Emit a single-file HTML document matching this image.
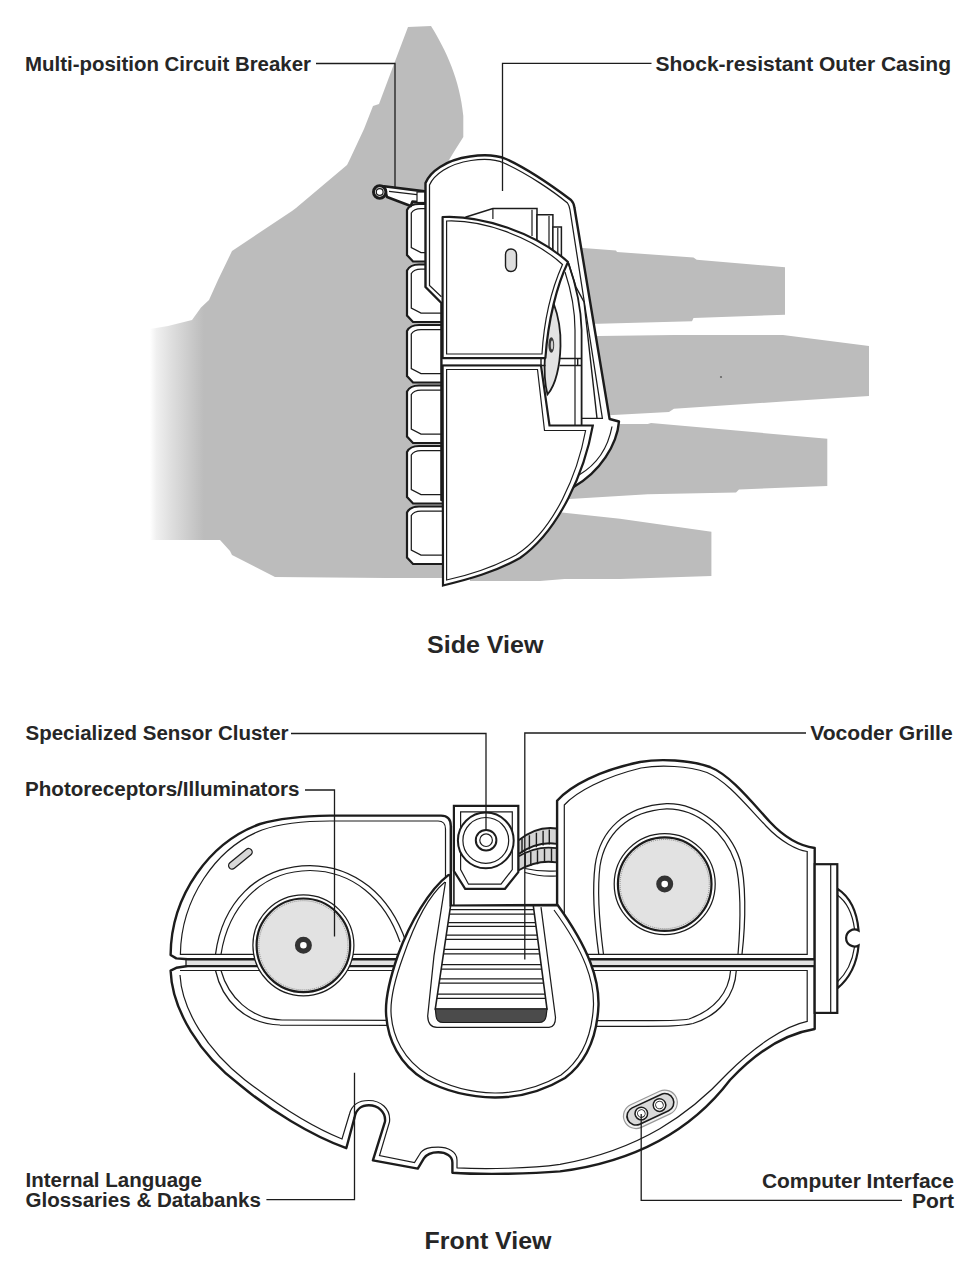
<!DOCTYPE html>
<html><head><meta charset="utf-8"><title>Universal Translator</title>
<style>
html,body{margin:0;padding:0;background:#fff;width:980px;height:1275px;overflow:hidden}
svg{display:block}
text{font-family:"Liberation Sans",sans-serif;font-weight:bold;fill:#262626}
</style></head><body>
<svg width="980" height="1275" viewBox="0 0 980 1275">
<defs>
<linearGradient id="wrist" gradientUnits="userSpaceOnUse" x1="150" y1="0" x2="204" y2="0">
<stop offset="0" stop-color="#ffffff"/><stop offset="0.12" stop-color="#f0f0f0"/><stop offset="0.4" stop-color="#dedede"/><stop offset="0.75" stop-color="#cacaca"/><stop offset="1" stop-color="#bcbcbc"/>
</linearGradient>
</defs>
<path d="M 408 27 L 431 26 C 446 50, 460 80, 463.3 116 L 463.3 137 L 460.8 141 Q 455 150, 449 160 L 540 200 L 540 512 L 480 512 L 480 578 L 385 578 L 275 577 L 232 555 L 230 551 L 220 540 L 150 540 L 150 329 L 168 326 L 192 320 L 201 307.5 L 209 300 L 218 280 L 232 251 L 292 211 L 296 208 L 347 165 L 350 159 L 364 129 L 373 106 L 379 104 L 394 64 Z" fill="url(#wrist)"/>
<path d="M 560 248 L 583 248 L 616 250.4 L 617 252 L 693.5 257.5 L 696.7 259.8 L 785 267.3 L 785 314.7 L 693.5 318 L 692 321.2 L 598.8 323.8 L 560 324 Z" fill="#bcbcbc"/>
<path d="M 560 336 L 598.8 336 L 673.9 335 L 783 335 L 869 346 L 869 396 L 783.3 401.5 L 673.9 408.7 L 669 412 L 608.6 415.3 L 560 416 Z" fill="#bcbcbc"/>
<path d="M 580 424 L 647.8 424 L 651 423 L 736 430.6 L 827.3 438.8 L 827.3 486 L 739 489.4 L 736 492.6 L 647.8 494.3 L 569.4 499 L 560 499 Z" fill="#bcbcbc"/>
<path d="M 470 512 L 559.6 512.2 L 620 518.8 L 711.4 531.8 L 711.4 576 L 620 579 L 564.5 579 L 540 581 L 470 581 Z" fill="#bcbcbc"/>
<circle cx="721" cy="377" r="1.1" fill="#666"/>
<path d="M 316 63.5 H 395 V 188" fill="none" stroke="#1c1c1c" stroke-width="1.3"/>
<path d="M 446 204.0 L 419 204.0 C 413 204.0, 409 206.0, 407 210.0 L 407 255.0 L 413 261.5 L 446 261.5 Z" fill="#fff" stroke="#1c1c1c" stroke-width="2.2"/>
<path d="M 446 208.5 L 421 208.5 C 416 208.5, 413 210.0, 411.3 213.0 L 411.3 247.5 L 421 252.5 L 446 252.5" fill="none" stroke="#1c1c1c" stroke-width="1.25"/>
<path d="M 446 264.5 L 419 264.5 C 413 264.5, 409 266.5, 407 270.5 L 407 315.5 L 413 322.0 L 446 322.0 Z" fill="#fff" stroke="#1c1c1c" stroke-width="2.2"/>
<path d="M 446 269.0 L 421 269.0 C 416 269.0, 413 270.5, 411.3 273.5 L 411.3 308.0 L 421 313.0 L 446 313.0" fill="none" stroke="#1c1c1c" stroke-width="1.25"/>
<path d="M 446 325.0 L 419 325.0 C 413 325.0, 409 327.0, 407 331.0 L 407 376.0 L 413 382.5 L 446 382.5 Z" fill="#fff" stroke="#1c1c1c" stroke-width="2.2"/>
<path d="M 446 329.5 L 421 329.5 C 416 329.5, 413 331.0, 411.3 334.0 L 411.3 368.5 L 421 373.5 L 446 373.5" fill="none" stroke="#1c1c1c" stroke-width="1.25"/>
<path d="M 446 385.5 L 419 385.5 C 413 385.5, 409 387.5, 407 391.5 L 407 436.5 L 413 443.0 L 446 443.0 Z" fill="#fff" stroke="#1c1c1c" stroke-width="2.2"/>
<path d="M 446 390.0 L 421 390.0 C 416 390.0, 413 391.5, 411.3 394.5 L 411.3 429.0 L 421 434.0 L 446 434.0" fill="none" stroke="#1c1c1c" stroke-width="1.25"/>
<path d="M 446 446.0 L 419 446.0 C 413 446.0, 409 448.0, 407 452.0 L 407 497.0 L 413 503.5 L 446 503.5 Z" fill="#fff" stroke="#1c1c1c" stroke-width="2.2"/>
<path d="M 446 450.5 L 421 450.5 C 416 450.5, 413 452.0, 411.3 455.0 L 411.3 489.5 L 421 494.5 L 446 494.5" fill="none" stroke="#1c1c1c" stroke-width="1.25"/>
<path d="M 446 506.5 L 419 506.5 C 413 506.5, 409 508.5, 407 512.5 L 407 557.5 L 413 564.0 L 446 564.0 Z" fill="#fff" stroke="#1c1c1c" stroke-width="2.2"/>
<path d="M 446 511.0 L 421 511.0 C 416 511.0, 413 512.5, 411.3 515.5 L 411.3 550.0 L 421 555.0 L 446 555.0" fill="none" stroke="#1c1c1c" stroke-width="1.25"/>
<path d="M 384 186.3 L 424.6 191.4 L 424.6 202.5 L 412.5 201.6 L 410.7 206 L 387 197 Z" fill="#fff" stroke="#1c1c1c" stroke-width="2.6" stroke-linejoin="round"/>
<path d="M 389 191.4 L 417 194.6" fill="none" stroke="#1c1c1c" stroke-width="1.2"/>
<rect x="417" y="192" width="8" height="10.5" fill="#fff" stroke="#1c1c1c" stroke-width="1.2"/>
<circle cx="379.7" cy="192" r="6.2" fill="#fff" stroke="#1c1c1c" stroke-width="3"/>
<circle cx="379.7" cy="192" r="3.4" fill="none" stroke="#1c1c1c" stroke-width="1.2"/>
<path d="M 425.5 287 V 183 C 430 172, 445 160, 470 156.5 C 480 155, 495 154.5, 506 159 C 530 170, 555 188, 571 200 Q 574 203, 574.5 208 L 609.6 419 L 619 421.5 C 617 445, 600 472, 573.6 487 L 558 500 L 441.4 500 L 441.4 303 Z" fill="#fff" stroke="#1c1c1c" stroke-width="2.4" stroke-linejoin="round"/>
<path d="M 441.4 296.7 L 429.5 285.5 V 185 C 434 175, 448 164, 471 160.5 C 481 159, 494 158.5, 504 163 C 528 174, 553 191, 567.5 203 Q 569.5 206, 570 210 L 602.4 418.4 L 581 418.4" fill="none" stroke="#1c1c1c" stroke-width="1.25"/>
<path d="M 612 426.5 C 608 448, 596 465, 579 475" fill="none" stroke="#1c1c1c" stroke-width="1.25"/>
<path d="M 466 217 L 492.9 208.6 L 537 208.6 L 537 240 L 466 240 Z" fill="#fff" stroke="#1c1c1c" stroke-width="1.5"/>
<path d="M 537 214.7 H 552.9 V 250 H 537 Z" fill="#fff" stroke="#1c1c1c" stroke-width="1.5"/>
<path d="M 552.9 227 H 561.4 V 258 H 552.9 Z" fill="#fff" stroke="#1c1c1c" stroke-width="1.5"/>
<path d="M 492.9 208.6 V 219 M 532 209.8 V 236 M 549 216 V 247 M 557.8 228 V 255" fill="none" stroke="#1c1c1c" stroke-width="1.2"/>
<path d="M 568.4 263 C 576 285, 581 305, 581.6 330 L 581.6 426" fill="none" stroke="#1c1c1c" stroke-width="1.8"/>
<path d="M 565 272 C 571 290, 575 310, 575 330 L 575 426" fill="none" stroke="#1c1c1c" stroke-width="1.2"/>
<path d="M 568.4 263 L 576 287 L 584 302 L 597 418.4" fill="none" stroke="#1c1c1c" stroke-width="1.4"/>
<path d="M 553.5 303 C 558 315, 561 330, 560.5 346 C 560 365, 556 385, 547.5 394.5 C 545 385, 544 370, 545 355 C 546 335, 549 315, 553.5 303 Z" fill="#e3e3e3" stroke="#1c1c1c" stroke-width="1.8"/>
<ellipse cx="551.3" cy="345" rx="2.9" ry="7.8" fill="#3a3a3a"/>
<ellipse cx="552" cy="345" rx="1.2" ry="4.5" fill="#cfcfcf"/>
<path d="M 442.6 217 C 480 215, 535 232, 568 262 C 557 285, 548 320, 545.4 358 L 442.6 358 Z" fill="#fff" stroke="#1c1c1c" stroke-width="2.2" stroke-linejoin="round"/>
<path d="M 446.6 221 C 482 219.5, 532 236.5, 562.5 264.5 C 552 288, 544 320, 542 354 L 446.6 354 Z" fill="none" stroke="#1c1c1c" stroke-width="1.2"/>
<rect x="505.5" y="249" width="11" height="22.5" rx="5.5" fill="#dedede" stroke="#1c1c1c" stroke-width="1.4"/>
<path d="M 442.6 358.5 H 546 M 442.6 365.5 H 545.5 M 559.8 358.5 H 581.6 M 559.5 365.5 H 581.6 M 541 358.5 V 365.5 M 577.7 358.5 V 365.5" fill="none" stroke="#1c1c1c" stroke-width="1.4"/>
<path d="M 442.6 365.5 L 541 365.5 L 549.5 425.5 L 592.8 425.5 C 585 470, 560 530, 520 558 C 495 572, 470 579, 443 585.5 Z" fill="#fff" stroke="#1c1c1c" stroke-width="2.2" stroke-linejoin="miter"/>
<path d="M 446.6 369.5 L 537.5 369.5 L 544.5 430.5 L 585.6 430.5 C 578 472, 555 530, 516 555 C 492 568, 470 575, 446.6 580 Z" fill="none" stroke="#1c1c1c" stroke-width="1.2"/>
<path d="M 502.5 191 V 63.3 H 651.5" fill="none" stroke="#1c1c1c" stroke-width="1.3"/>
<path d="M 187.8 966 L 176.3 967.8 L 170.6 970.6 C 172 1010, 200 1055, 240 1085 C 270 1110, 310 1135, 346.3 1148.2 L 354.5 1117.6 C 356 1109, 362 1105.3, 368.8 1105.3 C 378 1105.3, 386 1112, 385 1121.6 L 372.9 1160.4 L 417.8 1168.6 L 423.9 1158.4 C 427 1153.5, 432 1152.2, 438.2 1152.2 C 446 1152.2, 452.4 1156, 452.4 1162.4 L 452.4 1172.7 C 480 1174.7, 530 1174, 560 1171.4 C 640 1161, 695 1126, 730 1080 C 760 1048, 790 1033, 814.7 1029 L 814.7 966 Z" fill="#fff" stroke="#1c1c1c" stroke-width="2.4" stroke-linejoin="round"/>
<path d="M 180 975 C 182 1010, 207 1050, 245 1080 C 275 1103, 312 1127, 342 1139 L 349.5 1114 C 352 1104, 360 1100.5, 368.8 1100.5 C 380 1100.5, 391 1108, 389.5 1122 L 379.5 1155.5 L 414.5 1162.5 L 419.5 1154.5 C 423 1148, 430 1147.2, 438.2 1147.2 C 448 1147.2, 457 1152, 457 1160 L 457 1167.8 C 485 1169.5, 530 1168.5, 560 1164.3 C 640 1150, 690 1114, 728 1073 C 755 1046, 785 1026, 807.2 1021.4 L 807.2 970.5 L 180 970.5" fill="none" stroke="#1c1c1c" stroke-width="1.2"/>
<rect x="186" y="959.3" width="628.7" height="6.4" fill="#e4e4e4" stroke="#1c1c1c" stroke-width="1.3"/>
<path d="M 187.8 959.3 L 176.3 958.4 L 170.6 955 C 171 895, 210 842, 260 824 C 280 818, 300 816, 330 815.6 L 441 815.6 Q 450.8 815.6, 450.8 826 L 450.8 959.3 Z" fill="#fff" stroke="#1c1c1c" stroke-width="2.4" stroke-linejoin="round"/>
<path d="M 180.4 954.3 C 181 900, 215 848, 262 830 C 282 823, 302 821, 330 821 L 438 821 Q 445.5 821, 445.5 829 L 445.5 954.3 Z" fill="none" stroke="#1c1c1c" stroke-width="1.2"/>
<path d="M 557.1 959.3 L 557.1 800.7 C 570 786, 600 770, 640 762 C 660 758.5, 690 760, 710 767 C 730 775, 750 800, 770 822 C 785 838, 800 846, 814.7 848 L 814.7 959.3 Z" fill="#fff" stroke="#1c1c1c" stroke-width="2.4" stroke-linejoin="round"/>
<path d="M 564.3 954.3 L 564.3 805 C 576 792, 604 777, 641 768 C 661 764.5, 688 766, 707 772.5 C 727 781, 746 805, 766 826 C 781 842, 797 850, 807.2 851.5 L 807.2 954.3 Z" fill="none" stroke="#1c1c1c" stroke-width="1.2"/>
<path d="M 215.5 954.3 C 222 905, 255 866, 310 865.5 C 355 866, 390 895, 406 942" fill="none" stroke="#1c1c1c" stroke-width="1.25"/>
<path d="M 221 954.3 C 228 909, 259 871, 310 870.5 C 352 871, 385 898, 400 942" fill="none" stroke="#1c1c1c" stroke-width="1.2"/>
<path d="M 215.5 970.5 C 222 1000, 245 1024, 280 1025 L 395 1025.3" fill="none" stroke="#1c1c1c" stroke-width="1.25"/>
<path d="M 221 970.5 C 228 996, 250 1019.5, 282 1020 L 395 1020.3" fill="none" stroke="#1c1c1c" stroke-width="1.2"/>
<path d="M 598.8 954.3 C 594 920, 592 890, 595.1 865.3 C 600 830, 625 806, 666.6 803.6 C 700 803, 730 830, 740 860 C 746 880, 746 920, 742 954.3" fill="none" stroke="#1c1c1c" stroke-width="1.25"/>
<path d="M 603.5 954.3 C 599 920, 597 890, 600 866 C 605 834, 628 811, 666.6 808.8 C 698 808.5, 725 833, 735 862 C 741 882, 741 920, 738 954.3" fill="none" stroke="#1c1c1c" stroke-width="1.2"/>
<path d="M 736.3 970.5 C 735 995, 720 1015, 693 1023.5 C 680 1026.5, 665 1026.3, 640 1026.3 L 596 1026.3" fill="none" stroke="#1c1c1c" stroke-width="1.25"/>
<path d="M 730.6 970.5 C 729 992, 715 1010, 689 1019 C 677 1021, 665 1020.6, 640 1020.6 L 596 1020.6" fill="none" stroke="#1c1c1c" stroke-width="1.2"/>
<circle cx="303.4" cy="945.3" r="50.5" fill="#fff" stroke="#1c1c1c" stroke-width="1.25"/>
<circle cx="303.4" cy="945.3" r="46.8" fill="#e2e2e2" stroke="#1c1c1c" stroke-width="2.2"/>
<circle cx="303.4" cy="945.3" r="44.6" fill="none" stroke="#555" stroke-width="0.6" stroke-dasharray="1 1"/>
<circle cx="303.4" cy="945.3" r="5.9" fill="#fff" stroke="#333" stroke-width="5.2"/>
<circle cx="664.7" cy="884.1" r="50.5" fill="#fff" stroke="#1c1c1c" stroke-width="1.25"/>
<circle cx="664.7" cy="884.1" r="46.8" fill="#e2e2e2" stroke="#1c1c1c" stroke-width="2.2"/>
<circle cx="664.7" cy="884.1" r="44.6" fill="none" stroke="#555" stroke-width="0.6" stroke-dasharray="1 1"/>
<circle cx="664.7" cy="884.1" r="5.9" fill="#fff" stroke="#333" stroke-width="5.2"/>
<rect x="226.2" y="855.3" width="28.4" height="7" rx="3.5" fill="#d8d8d8" stroke="#1c1c1c" stroke-width="1.3" transform="rotate(-39.3 240.4 858.8)"/>
<path d="M 837.3 888.7 C 850 897, 857 912, 858.6 930.5 A 8.5 8.5 0 1 0 858.6 945.5 C 857 962, 850 978, 837.3 988.4 Z" fill="#fff" stroke="#1c1c1c" stroke-width="2.2"/>
<path d="M 837.3 895 C 847 902, 852.5 914, 854.5 929 M 854.5 947 C 852.5 961, 847 973, 837.3 982" fill="none" stroke="#1c1c1c" stroke-width="1.2"/>
<rect x="814.7" y="864.2" width="22.6" height="148.7" fill="#fff" stroke="#1c1c1c" stroke-width="2.2"/>
<path d="M 830.7 864.2 V 1012.9" stroke="#1c1c1c" stroke-width="1.2"/>
<path d="M 518.3 840.5 Q 537 825.5, 556.7 828.5 L 556.7 843.8 Q 537 840.8, 518.3 854.3 Z" fill="#d4d4d4" stroke="#1c1c1c" stroke-width="1.8"/>
<path d="M 522 838.6 V 852.5 M 529.4 835.2 V 849.5 M 536.4 832.7 V 847.2 M 543.1 830.7 V 845.5 M 549.3 829.4 V 844.5 " stroke="#1c1c1c" stroke-width="1.4"/>
<path d="M 518.3 856.6 Q 537 845.2, 556.7 848.2 L 556.7 862.4 Q 537 859.4, 518.3 870.6 Z" fill="#d4d4d4" stroke="#1c1c1c" stroke-width="1.8"/>
<path d="M 525.2 853.8 V 867.8 M 530.8 851.9 V 866.0 M 537.5 850.2 V 864.3 M 544.5 849.0 V 863.1 M 551.5 848.3 V 862.5 " stroke="#1c1c1c" stroke-width="1.4"/>
<path d="M 525 868.5 Q 540 872, 556.7 871 M 525 872.5 Q 540 877, 556.7 876" fill="none" stroke="#1c1c1c" stroke-width="1.2"/>
<path d="M 448 875.4 C 430 889, 410 922, 398 955 C 390 978, 385.5 995, 386 1012 C 387 1040, 400 1065, 425 1080 C 445 1091, 470 1097, 495 1097.5 C 520 1097.5, 545 1090, 565 1078 C 585 1063, 597 1040, 598.5 1005 C 599 980, 590 950, 557.6 905 L 450.6 905.7 L 450.3 876 Q 449.5 874.5, 448 875.4 Z" fill="#fff" stroke="#1c1c1c" stroke-width="2.4" stroke-linejoin="round"/>
<path d="M 445 882 C 428 896, 414 925, 403 957 C 395 979, 390.5 996, 391 1012 C 392 1037, 404 1060, 428 1075 C 447 1086, 471 1092.5, 495 1093 C 519 1093, 542 1086, 561 1075 C 580 1061, 592 1038, 593.5 1005 C 594 982, 586 954, 554 910" fill="none" stroke="#1c1c1c" stroke-width="1.2"/>
<path d="M 445.5 882 L 434 955.7 L 427.7 1016 Q 428 1027.2, 437 1027.4 L 549 1027.4 Q 555.5 1027, 555.5 1017.5 L 541 907.2" fill="none" stroke="#1c1c1c" stroke-width="1.25"/>
<path d="M 450.6 905.7 L 533.3 905.7 L 547 1009 L 435.3 1009 Z" fill="#fff" stroke="#1c1c1c" stroke-width="1.6"/>
<path d="M 450.0 909.5 H 533.8 M 449.4 914.1 H 534.4 M 448.1 922.6 H 535.5 M 447.5 926.4 H 536.0 M 446.2 935.1 H 537.2 M 445.6 939.4 H 537.8 M 444.1 949.3 H 539.1 M 443.5 953.9 H 539.7 M 441.9 964.6 H 541.1 M 441.2 969.2 H 541.7 M 439.8 978.9 H 543.0 M 439.2 983 H 543.6 M 437.5 994.2 H 545.0 M 436.9 998.3 H 545.6 " stroke="#1c1c1c" stroke-width="1.25"/>
<path d="M 435.3 1009 L 547 1009 L 546.2 1015.5 Q 545.5 1022.5, 539 1022.5 L 443 1022.5 Q 436.5 1022.5, 436 1015.5 Z" fill="#4b4b4b" stroke="#1c1c1c" stroke-width="1.2"/>
<path d="M 451.3 826 V 905.5 M 453.9 871 V 905.5" stroke="#1c1c1c" stroke-width="1.6"/>
<path d="M 453.9 805.9 H 518.3 V 872.2 L 505 888.8 H 465.2 L 453.9 871 Z" fill="#fff" stroke="#1c1c1c" stroke-width="2.2" stroke-linejoin="miter"/>
<path d="M 460.6 811.9 H 512.3 V 869.6 L 501 884.2 H 468.5 L 460.6 869.6 Z" fill="none" stroke="#1c1c1c" stroke-width="1.2"/>
<circle cx="485.8" cy="840.4" r="27.9" fill="#fff" stroke="#1c1c1c" stroke-width="2"/>
<circle cx="485.8" cy="840.4" r="22.9" fill="none" stroke="#1c1c1c" stroke-width="1.2"/>
<circle cx="486.1" cy="840.2" r="10.3" fill="none" stroke="#1c1c1c" stroke-width="2"/>
<circle cx="486.1" cy="840.2" r="6.3" fill="none" stroke="#1c1c1c" stroke-width="1.2"/>
<g transform="rotate(-25 650.4 1109.3)"><rect x="622" y="1096.8" width="56.8" height="25" rx="12.5" fill="#f2f2f2" stroke="#999" stroke-width="1.2"/><rect x="625.5" y="1100.3" width="49.8" height="18" rx="9" fill="#d9d9d9" stroke="#1c1c1c" stroke-width="1.6"/><circle cx="640.4" cy="1109.3" r="6.3" fill="#fff" stroke="#1c1c1c" stroke-width="1.5"/><circle cx="640.4" cy="1109.3" r="3.8" fill="none" stroke="#1c1c1c" stroke-width="0.9"/><circle cx="660.4" cy="1109.3" r="6.3" fill="#fff" stroke="#1c1c1c" stroke-width="1.5"/><circle cx="660.4" cy="1109.3" r="3.8" fill="none" stroke="#1c1c1c" stroke-width="0.9"/></g>
<path d="M 291 733.5 H 486 V 830" fill="none" stroke="#1c1c1c" stroke-width="1.3"/>
<path d="M 305 790 H 334.5 V 936.4" fill="none" stroke="#1c1c1c" stroke-width="1.3"/>
<path d="M 806 733 H 524.8 V 959.5" fill="none" stroke="#1c1c1c" stroke-width="1.3"/>
<path d="M 266.4 1199.7 H 354.5 V 1072.7" fill="none" stroke="#1c1c1c" stroke-width="1.3"/>
<path d="M 902 1200.4 H 641.2 V 1114" fill="none" stroke="#1c1c1c" stroke-width="1.3"/>
<text x="25" y="70.7" font-size="20" textLength="286" lengthAdjust="spacingAndGlyphs">Multi-position Circuit Breaker</text>
<text x="655.5" y="71" font-size="20" textLength="295.5" lengthAdjust="spacingAndGlyphs">Shock-resistant Outer Casing</text>
<text x="427" y="653.4" font-size="24.5" textLength="116.5" lengthAdjust="spacingAndGlyphs">Side View</text>
<text x="25.5" y="740.4" font-size="20" textLength="263" lengthAdjust="spacingAndGlyphs">Specialized Sensor Cluster</text>
<text x="25" y="796.4" font-size="20" textLength="274.5" lengthAdjust="spacingAndGlyphs">Photoreceptors/Illuminators</text>
<text x="810.2" y="740.2" font-size="20" textLength="142.5" lengthAdjust="spacingAndGlyphs">Vocoder Grille</text>
<text x="25.5" y="1186.6" font-size="20" textLength="176.5" lengthAdjust="spacingAndGlyphs">Internal Language</text>
<text x="25.5" y="1206.8" font-size="20" textLength="235.5" lengthAdjust="spacingAndGlyphs">Glossaries &amp; Databanks</text>
<text x="761.9" y="1187.5" font-size="20" textLength="192" lengthAdjust="spacingAndGlyphs">Computer Interface</text>
<text x="911.9" y="1207.5" font-size="20" textLength="42" lengthAdjust="spacingAndGlyphs">Port</text>
<text x="424.5" y="1249" font-size="24.5" textLength="127" lengthAdjust="spacingAndGlyphs">Front View</text>
</svg>
</body></html>
